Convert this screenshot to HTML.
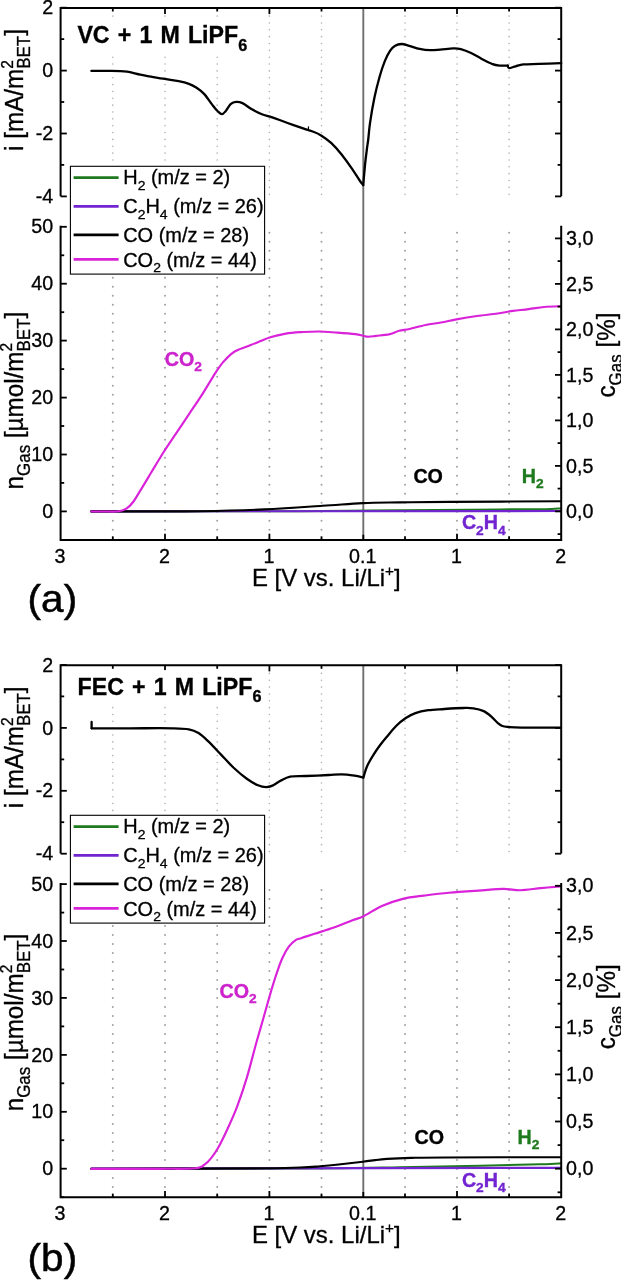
<!DOCTYPE html>
<html><head><meta charset="utf-8"><title>Figure</title>
<style>html,body{margin:0;padding:0;background:#fff}svg{display:block}</style></head>
<body>
<svg width="621" height="1280" viewBox="0 0 621 1280" font-family='"Liberation Sans", Arial, sans-serif'>
<rect width="621" height="1280" fill="#fff"/>
<line x1="112.8" x2="112.8" y1="16.1" y2="195.2" stroke="#b0b0b0" stroke-width="1.6" stroke-linecap="round" stroke-dasharray="0.01 6.84"/>
<line x1="112.8" x2="112.8" y1="232.7" y2="538.9" stroke="#a0a0a0" stroke-width="2.0" stroke-linecap="round" stroke-dasharray="0.01 8.99"/>
<line x1="165.0" x2="165.0" y1="16.1" y2="195.2" stroke="#b0b0b0" stroke-width="1.6" stroke-linecap="round" stroke-dasharray="0.01 6.84"/>
<line x1="165.0" x2="165.0" y1="232.7" y2="538.9" stroke="#a0a0a0" stroke-width="2.0" stroke-linecap="round" stroke-dasharray="0.01 8.99"/>
<line x1="217.2" x2="217.2" y1="16.1" y2="195.2" stroke="#b0b0b0" stroke-width="1.6" stroke-linecap="round" stroke-dasharray="0.01 6.84"/>
<line x1="217.2" x2="217.2" y1="232.7" y2="538.9" stroke="#a0a0a0" stroke-width="2.0" stroke-linecap="round" stroke-dasharray="0.01 8.99"/>
<line x1="269.4" x2="269.4" y1="16.1" y2="195.2" stroke="#b0b0b0" stroke-width="1.6" stroke-linecap="round" stroke-dasharray="0.01 6.84"/>
<line x1="269.4" x2="269.4" y1="232.7" y2="538.9" stroke="#a0a0a0" stroke-width="2.0" stroke-linecap="round" stroke-dasharray="0.01 8.99"/>
<line x1="321.5" x2="321.5" y1="16.1" y2="195.2" stroke="#b0b0b0" stroke-width="1.6" stroke-linecap="round" stroke-dasharray="0.01 6.84"/>
<line x1="321.5" x2="321.5" y1="232.7" y2="538.9" stroke="#a0a0a0" stroke-width="2.0" stroke-linecap="round" stroke-dasharray="0.01 8.99"/>
<line x1="405.0" x2="405.0" y1="16.1" y2="195.2" stroke="#b0b0b0" stroke-width="1.6" stroke-linecap="round" stroke-dasharray="0.01 6.84"/>
<line x1="405.0" x2="405.0" y1="232.7" y2="538.9" stroke="#a0a0a0" stroke-width="2.0" stroke-linecap="round" stroke-dasharray="0.01 8.99"/>
<line x1="457.0" x2="457.0" y1="16.1" y2="195.2" stroke="#b0b0b0" stroke-width="1.6" stroke-linecap="round" stroke-dasharray="0.01 6.84"/>
<line x1="457.0" x2="457.0" y1="232.7" y2="538.9" stroke="#a0a0a0" stroke-width="2.0" stroke-linecap="round" stroke-dasharray="0.01 8.99"/>
<line x1="509.1" x2="509.1" y1="16.1" y2="195.2" stroke="#b0b0b0" stroke-width="1.6" stroke-linecap="round" stroke-dasharray="0.01 6.84"/>
<line x1="509.1" x2="509.1" y1="232.7" y2="538.9" stroke="#a0a0a0" stroke-width="2.0" stroke-linecap="round" stroke-dasharray="0.01 8.99"/>
<line x1="363.3" x2="363.3" y1="7.9" y2="539.9" stroke="#707070" stroke-width="1.9"/>
<path d="M308.3,130.2 L308.5,126.9" fill="none" stroke="#000" stroke-width="1.2" stroke-linejoin="round" stroke-linecap="round"/>
<path d="M91.4,70.9 C94.8,70.9 105.6,70.8 111.5,70.9 C117.4,71.0 122.7,71.2 127.0,71.7 C131.3,72.2 133.9,73.3 137.3,74.0 C140.7,74.7 143.3,75.3 147.6,76.1 C151.9,76.9 157.9,77.8 163.1,78.7 C168.3,79.6 174.3,80.4 178.6,81.2 C182.9,82.0 185.9,82.7 188.9,83.8 C191.9,84.9 194.0,86.0 196.6,87.7 C199.2,89.4 201.7,91.3 204.3,94.1 C206.9,96.9 209.8,101.6 212.0,104.4 C214.2,107.2 215.8,109.4 217.5,111.0 C219.2,112.6 220.5,114.2 221.9,114.2 C223.3,114.2 224.3,112.6 225.8,110.9 C227.3,109.2 229.2,105.4 230.9,103.9 C232.6,102.4 234.2,102.0 236.1,101.9 C238.0,101.8 239.9,101.9 242.5,103.1 C245.1,104.3 248.3,107.2 251.5,109.1 C254.7,110.9 258.4,112.8 261.9,114.2 C265.3,115.6 267.9,115.8 272.2,117.3 C276.5,118.8 282.5,121.2 287.6,123.0 C292.8,124.8 299.0,127.0 303.1,128.4 C307.2,129.8 309.0,130.0 312.0,131.2 C315.0,132.4 317.9,133.4 321.1,135.4 C324.3,137.4 327.9,139.9 331.4,143.1 C334.8,146.3 338.4,150.4 341.8,154.7 C345.2,159.0 349.1,164.5 352.1,168.9 C355.1,173.3 358.1,178.3 360.0,181.0 C361.9,183.7 362.7,184.4 363.2,185.1" fill="none" stroke="#000" stroke-width="2.3" stroke-linejoin="round" stroke-linecap="round"/>
<path d="M363.2,185.1 C363.5,181.6 364.5,170.2 365.1,164.2 C365.7,158.2 366.4,153.2 366.9,149.0 C367.4,144.8 367.8,143.3 368.3,139.0 C368.8,134.7 369.0,130.0 370.0,123.1 C371.0,116.1 372.9,105.0 374.5,97.3 C376.1,89.6 377.9,82.7 379.6,76.7 C381.3,70.7 383.1,65.5 384.8,61.2 C386.5,56.9 388.3,53.5 390.0,50.9 C391.7,48.3 393.2,46.9 395.1,45.8 C397.0,44.6 399.1,44.0 401.5,44.0 C403.9,44.0 406.3,45.0 409.3,45.8 C412.3,46.6 416.2,48.2 419.6,48.9 C423.0,49.6 426.5,50.1 429.9,50.2 C433.3,50.3 436.3,49.9 440.2,49.6 C444.1,49.3 449.7,48.5 453.1,48.4 C456.5,48.3 457.8,48.3 460.8,49.1 C463.8,49.9 467.7,51.4 471.1,53.0 C474.5,54.6 477.9,56.9 481.4,58.7 C484.8,60.5 488.8,62.6 491.8,63.8 C494.8,64.9 496.8,65.3 499.5,65.6 C502.2,65.9 506.4,65.6 507.8,65.6" fill="none" stroke="#000" stroke-width="2.3" stroke-linejoin="round" stroke-linecap="round"/>
<path d="M507.8,65.6 C508.0,66.0 507.7,68.1 509.0,68.2 C510.3,68.3 513.2,66.9 515.6,66.3 C518.0,65.7 519.5,64.8 523.4,64.4 C527.3,64.0 532.7,64.1 539.0,63.9 C545.3,63.7 557.5,63.3 561.2,63.2" fill="none" stroke="#000" stroke-width="2.3" stroke-linejoin="round" stroke-linecap="round"/>
<path d="M91.3,511.4 C126.1,511.4 248.6,511.4 300.0,511.2 C351.4,511.0 366.7,510.6 400.0,510.3 C433.3,510.0 475.8,509.6 500.0,509.4 C524.2,509.2 534.9,509.4 545.0,509.2 C555.1,509.0 557.9,508.5 560.5,508.4" fill="none" stroke="#1f7a1f" stroke-width="2.0" stroke-linejoin="round" stroke-linecap="round"/>
<path d="M91.3,511.4 L560.5,511.0" fill="none" stroke="#7224d0" stroke-width="2.2" stroke-linejoin="round" stroke-linecap="round"/>
<path d="M91.3,511.4 C101.1,511.4 131.9,511.4 150.0,511.4 C168.1,511.4 180.9,511.5 200.0,511.2 C219.1,510.9 244.0,510.3 264.4,509.4 C284.8,508.5 306.0,506.9 322.4,505.8 C338.8,504.8 349.7,503.7 362.6,503.1 C375.5,502.5 385.4,502.6 400.0,502.4 C414.6,502.2 423.2,502.1 450.0,501.9 C476.8,501.7 542.1,501.4 560.5,501.3" fill="none" stroke="#000" stroke-width="2.1" stroke-linejoin="round" stroke-linecap="round"/>
<path d="M91.3,511.5 C93.6,511.5 100.5,511.5 105.0,511.5 C109.5,511.5 115.0,511.8 118.6,511.3 C122.2,510.8 124.3,509.9 126.7,508.4 C129.1,506.8 130.7,505.2 133.1,502.0 C135.5,498.8 138.2,493.9 141.2,489.1 C144.2,484.3 147.2,479.2 150.9,473.0 C154.7,466.8 159.4,458.7 163.7,452.0 C168.0,445.3 172.3,439.1 176.6,432.7 C180.9,426.3 185.2,419.8 189.5,413.4 C193.8,407.0 198.1,400.8 202.4,394.1 C206.7,387.4 211.8,378.5 215.3,373.1 C218.8,367.7 220.6,365.1 223.3,361.9 C226.0,358.7 229.0,355.8 231.4,353.8 C233.8,351.8 234.6,351.4 237.8,350.0 C241.0,348.6 247.0,346.6 250.7,345.1 C254.4,343.7 256.7,342.6 260.0,341.3 C263.3,340.0 266.0,338.5 270.3,337.2 C274.6,335.9 280.7,334.5 285.8,333.6 C290.9,332.8 295.6,332.5 301.2,332.1 C306.8,331.8 313.3,331.4 319.3,331.5 C325.3,331.6 331.3,332.2 337.3,332.6 C343.3,333.0 351.1,333.6 355.4,334.1 C359.7,334.6 361.0,335.3 363.1,335.7 C365.2,336.1 366.1,336.7 368.2,336.7 C370.3,336.7 372.6,336.3 376.0,335.9 C379.4,335.5 385.0,335.2 388.9,334.4 C392.8,333.5 395.8,331.7 399.2,330.8 C402.6,329.9 405.1,330.0 409.5,329.0 C413.9,328.0 420.3,326.1 425.5,325.0 C430.7,323.9 435.8,323.4 440.9,322.5 C446.0,321.6 450.4,320.5 456.4,319.4 C462.4,318.3 470.1,317.0 477.0,316.0 C483.9,315.0 491.6,314.4 497.6,313.5 C503.6,312.6 507.9,311.6 513.1,310.9 C518.3,310.2 523.5,309.8 528.6,309.1 C533.8,308.5 538.7,307.5 544.0,307.0 C549.3,306.5 557.8,306.3 560.5,306.2" fill="none" stroke="#d922d9" stroke-width="2.15" stroke-linejoin="round" stroke-linecap="round"/>
<path d="M60.6,196.2 V7.9 H561.2 V196.2" fill="none" stroke="#000" stroke-width="2.0" stroke-linejoin="miter"/>
<path d="M60.6,225.8 V539.9 H561.2 V225.8" fill="none" stroke="#000" stroke-width="2.0" stroke-linejoin="miter"/>
<line x1="60.6" x2="66.8" y1="7.7" y2="7.7" stroke="#000" stroke-width="1.8"/>
<line x1="561.2" x2="555.0" y1="7.7" y2="7.7" stroke="#000" stroke-width="1.8"/>
<line x1="60.6" x2="64.2" y1="39.1" y2="39.1" stroke="#000" stroke-width="1.8"/>
<line x1="561.2" x2="557.6" y1="39.1" y2="39.1" stroke="#000" stroke-width="1.8"/>
<line x1="60.6" x2="66.8" y1="70.6" y2="70.6" stroke="#000" stroke-width="1.8"/>
<line x1="561.2" x2="555.0" y1="70.6" y2="70.6" stroke="#000" stroke-width="1.8"/>
<line x1="60.6" x2="64.2" y1="102.0" y2="102.0" stroke="#000" stroke-width="1.8"/>
<line x1="561.2" x2="557.6" y1="102.0" y2="102.0" stroke="#000" stroke-width="1.8"/>
<line x1="60.6" x2="66.8" y1="133.5" y2="133.5" stroke="#000" stroke-width="1.8"/>
<line x1="561.2" x2="555.0" y1="133.5" y2="133.5" stroke="#000" stroke-width="1.8"/>
<line x1="60.6" x2="64.2" y1="164.9" y2="164.9" stroke="#000" stroke-width="1.8"/>
<line x1="561.2" x2="557.6" y1="164.9" y2="164.9" stroke="#000" stroke-width="1.8"/>
<line x1="60.6" x2="66.8" y1="196.4" y2="196.4" stroke="#000" stroke-width="1.8"/>
<line x1="561.2" x2="555.0" y1="196.4" y2="196.4" stroke="#000" stroke-width="1.8"/>
<line x1="165.0" x2="165.0" y1="7.9" y2="14.1" stroke="#000" stroke-width="1.8"/>
<line x1="165.0" x2="165.0" y1="539.9" y2="533.7" stroke="#000" stroke-width="1.8"/>
<line x1="269.4" x2="269.4" y1="7.9" y2="14.1" stroke="#000" stroke-width="1.8"/>
<line x1="269.4" x2="269.4" y1="539.9" y2="533.7" stroke="#000" stroke-width="1.8"/>
<line x1="457.0" x2="457.0" y1="7.9" y2="14.1" stroke="#000" stroke-width="1.8"/>
<line x1="457.0" x2="457.0" y1="539.9" y2="533.7" stroke="#000" stroke-width="1.8"/>
<line x1="363.3" x2="363.3" y1="539.9" y2="534.7" stroke="#000" stroke-width="1.8"/>
<line x1="112.8" x2="112.8" y1="7.9" y2="11.5" stroke="#000" stroke-width="1.8"/>
<line x1="112.8" x2="112.8" y1="539.9" y2="536.3" stroke="#000" stroke-width="1.8"/>
<line x1="217.2" x2="217.2" y1="7.9" y2="11.5" stroke="#000" stroke-width="1.8"/>
<line x1="217.2" x2="217.2" y1="539.9" y2="536.3" stroke="#000" stroke-width="1.8"/>
<line x1="321.5" x2="321.5" y1="7.9" y2="11.5" stroke="#000" stroke-width="1.8"/>
<line x1="321.5" x2="321.5" y1="539.9" y2="536.3" stroke="#000" stroke-width="1.8"/>
<line x1="405.0" x2="405.0" y1="7.9" y2="11.5" stroke="#000" stroke-width="1.8"/>
<line x1="405.0" x2="405.0" y1="539.9" y2="536.3" stroke="#000" stroke-width="1.8"/>
<line x1="509.1" x2="509.1" y1="7.9" y2="11.5" stroke="#000" stroke-width="1.8"/>
<line x1="509.1" x2="509.1" y1="539.9" y2="536.3" stroke="#000" stroke-width="1.8"/>
<line x1="60.6" x2="64.2" y1="539.9" y2="539.9" stroke="#000" stroke-width="1.8"/>
<line x1="60.6" x2="66.8" y1="511.4" y2="511.4" stroke="#000" stroke-width="1.8"/>
<line x1="60.6" x2="64.2" y1="482.9" y2="482.9" stroke="#000" stroke-width="1.8"/>
<line x1="60.6" x2="66.8" y1="454.5" y2="454.5" stroke="#000" stroke-width="1.8"/>
<line x1="60.6" x2="64.2" y1="426.0" y2="426.0" stroke="#000" stroke-width="1.8"/>
<line x1="60.6" x2="66.8" y1="397.6" y2="397.6" stroke="#000" stroke-width="1.8"/>
<line x1="60.6" x2="64.2" y1="369.1" y2="369.1" stroke="#000" stroke-width="1.8"/>
<line x1="60.6" x2="66.8" y1="340.6" y2="340.6" stroke="#000" stroke-width="1.8"/>
<line x1="60.6" x2="64.2" y1="312.2" y2="312.2" stroke="#000" stroke-width="1.8"/>
<line x1="60.6" x2="66.8" y1="283.7" y2="283.7" stroke="#000" stroke-width="1.8"/>
<line x1="60.6" x2="64.2" y1="255.3" y2="255.3" stroke="#000" stroke-width="1.8"/>
<line x1="60.6" x2="66.8" y1="226.8" y2="226.8" stroke="#000" stroke-width="1.8"/>
<line x1="561.2" x2="557.6" y1="534.1" y2="534.1" stroke="#000" stroke-width="1.8"/>
<line x1="561.2" x2="555.0" y1="511.4" y2="511.4" stroke="#000" stroke-width="1.8"/>
<line x1="561.2" x2="557.6" y1="488.6" y2="488.6" stroke="#000" stroke-width="1.8"/>
<line x1="561.2" x2="555.0" y1="465.9" y2="465.9" stroke="#000" stroke-width="1.8"/>
<line x1="561.2" x2="557.6" y1="443.1" y2="443.1" stroke="#000" stroke-width="1.8"/>
<line x1="561.2" x2="555.0" y1="420.4" y2="420.4" stroke="#000" stroke-width="1.8"/>
<line x1="561.2" x2="557.6" y1="397.6" y2="397.6" stroke="#000" stroke-width="1.8"/>
<line x1="561.2" x2="555.0" y1="374.9" y2="374.9" stroke="#000" stroke-width="1.8"/>
<line x1="561.2" x2="557.6" y1="352.1" y2="352.1" stroke="#000" stroke-width="1.8"/>
<line x1="561.2" x2="555.0" y1="329.4" y2="329.4" stroke="#000" stroke-width="1.8"/>
<line x1="561.2" x2="557.6" y1="306.6" y2="306.6" stroke="#000" stroke-width="1.8"/>
<line x1="561.2" x2="555.0" y1="283.9" y2="283.9" stroke="#000" stroke-width="1.8"/>
<line x1="561.2" x2="557.6" y1="261.1" y2="261.1" stroke="#000" stroke-width="1.8"/>
<line x1="561.2" x2="555.0" y1="238.4" y2="238.4" stroke="#000" stroke-width="1.8"/>
<text transform="translate(53.2,14.3) scale(1.02,1.0)" font-size="19.3" text-anchor="end" font-weight="normal" fill="#000"  stroke="#000" stroke-width="0.3">2</text>
<text transform="translate(53.2,77.2) scale(1.02,1.0)" font-size="19.3" text-anchor="end" font-weight="normal" fill="#000"  stroke="#000" stroke-width="0.3">0</text>
<text transform="translate(53.2,140.1) scale(1.02,1.0)" font-size="19.3" text-anchor="end" font-weight="normal" fill="#000"  stroke="#000" stroke-width="0.3">-2</text>
<text transform="translate(53.2,203.0) scale(1.02,1.0)" font-size="19.3" text-anchor="end" font-weight="normal" fill="#000"  stroke="#000" stroke-width="0.3">-4</text>
<text transform="translate(53.2,518.0) scale(1.02,1.0)" font-size="19.3" text-anchor="end" font-weight="normal" fill="#000"  stroke="#000" stroke-width="0.3">0</text>
<text transform="translate(53.2,461.1) scale(1.02,1.0)" font-size="19.3" text-anchor="end" font-weight="normal" fill="#000"  stroke="#000" stroke-width="0.3">10</text>
<text transform="translate(53.2,404.2) scale(1.02,1.0)" font-size="19.3" text-anchor="end" font-weight="normal" fill="#000"  stroke="#000" stroke-width="0.3">20</text>
<text transform="translate(53.2,347.2) scale(1.02,1.0)" font-size="19.3" text-anchor="end" font-weight="normal" fill="#000"  stroke="#000" stroke-width="0.3">30</text>
<text transform="translate(53.2,290.3) scale(1.02,1.0)" font-size="19.3" text-anchor="end" font-weight="normal" fill="#000"  stroke="#000" stroke-width="0.3">40</text>
<text transform="translate(53.2,233.4) scale(1.02,1.0)" font-size="19.3" text-anchor="end" font-weight="normal" fill="#000"  stroke="#000" stroke-width="0.3">50</text>
<text transform="translate(566.0,518.0) scale(1.02,1.0)" font-size="19.3" text-anchor="start" font-weight="normal" fill="#000"  stroke="#000" stroke-width="0.3">0,0</text>
<text transform="translate(566.0,472.5) scale(1.02,1.0)" font-size="19.3" text-anchor="start" font-weight="normal" fill="#000"  stroke="#000" stroke-width="0.3">0,5</text>
<text transform="translate(566.0,427.0) scale(1.02,1.0)" font-size="19.3" text-anchor="start" font-weight="normal" fill="#000"  stroke="#000" stroke-width="0.3">1,0</text>
<text transform="translate(566.0,381.5) scale(1.02,1.0)" font-size="19.3" text-anchor="start" font-weight="normal" fill="#000"  stroke="#000" stroke-width="0.3">1,5</text>
<text transform="translate(566.0,336.0) scale(1.02,1.0)" font-size="19.3" text-anchor="start" font-weight="normal" fill="#000"  stroke="#000" stroke-width="0.3">2,0</text>
<text transform="translate(566.0,290.5) scale(1.02,1.0)" font-size="19.3" text-anchor="start" font-weight="normal" fill="#000"  stroke="#000" stroke-width="0.3">2,5</text>
<text transform="translate(566.0,245.0) scale(1.02,1.0)" font-size="19.3" text-anchor="start" font-weight="normal" fill="#000"  stroke="#000" stroke-width="0.3">3,0</text>
<text transform="translate(60.1,562.6) scale(1.02,1.0)" font-size="19.3" text-anchor="middle" font-weight="normal" fill="#000"  stroke="#000" stroke-width="0.3">3</text>
<text transform="translate(164.5,562.6) scale(1.02,1.0)" font-size="19.3" text-anchor="middle" font-weight="normal" fill="#000"  stroke="#000" stroke-width="0.3">2</text>
<text transform="translate(268.9,562.6) scale(1.02,1.0)" font-size="19.3" text-anchor="middle" font-weight="normal" fill="#000"  stroke="#000" stroke-width="0.3">1</text>
<text transform="translate(362.8,562.6) scale(1.02,1.0)" font-size="19.3" text-anchor="middle" font-weight="normal" fill="#000"  stroke="#000" stroke-width="0.3">0.1</text>
<text transform="translate(456.5,562.6) scale(1.02,1.0)" font-size="19.3" text-anchor="middle" font-weight="normal" fill="#000"  stroke="#000" stroke-width="0.3">1</text>
<text transform="translate(560.7,562.6) scale(1.02,1.0)" font-size="19.3" text-anchor="middle" font-weight="normal" fill="#000"  stroke="#000" stroke-width="0.3">2</text>
<text transform="translate(326.3,585.9) scale(1.02,1.0)" font-size="23.5" text-anchor="middle" font-weight="normal" fill="#000"  stroke="#000" stroke-width="0.3"><tspan font-size="23.50" dy="0.00">E [V vs. Li/Li</tspan><tspan font-size="15.04" dy="-9.87">+</tspan><tspan font-size="23.50" dy="9.87">]</tspan></text>
<text transform="translate(23.2,90.0) rotate(-90) scale(1.01,1.05)" font-size="24" text-anchor="middle" font-weight="normal" fill="#000"  stroke="#000" stroke-width="0.3"><tspan font-size="24.00" dy="0.00">i [mA/m</tspan><tspan font-size="15.36" dy="-10.08">2</tspan><tspan font-size="16.80" dy="16.80" dx="-8.54">BET</tspan><tspan font-size="24.00" dy="-6.72">]</tspan></text>
<text transform="translate(22.6,400.6) rotate(-90) scale(1.01,1.05)" font-size="24" text-anchor="middle" font-weight="normal" fill="#000"  stroke="#000" stroke-width="0.3"><tspan font-size="24.00" dy="0.00">n</tspan><tspan font-size="16.80" dy="6.72">Gas</tspan><tspan font-size="24.00" dy="-6.72"> [µmol/m</tspan><tspan font-size="15.36" dy="-10.08">2</tspan><tspan font-size="16.80" dy="16.80" dx="-8.54">BET</tspan><tspan font-size="24.00" dy="-6.72">]</tspan></text>
<text transform="translate(615.0,355.0) rotate(-90) scale(1.01,1.05)" font-size="24" text-anchor="middle" font-weight="normal" fill="#000"  stroke="#000" stroke-width="0.3"><tspan font-size="24.00" dy="0.00">c</tspan><tspan font-size="16.80" dy="6.72">Gas</tspan><tspan font-size="24.00" dy="-6.72"> [%]</tspan></text>
<rect x="72" y="19.0" width="178" height="34" fill="#fff"/>
<text transform="translate(77.4,43.4) scale(1.0,1.0)" font-size="23.2" text-anchor="start" font-weight="bold" fill="#000" word-spacing="1.7" stroke="#000" stroke-width="0.35"><tspan font-size="23.20" dy="0.00">VC + 1 M LiPF</tspan><tspan font-size="16.24" dy="7.66">6</tspan></text>
<rect x="70.4" y="166.3" width="194.2" height="107.8" fill="#fff" stroke="#000" stroke-width="1.1"/>
<line x1="73.6" x2="118.6" y1="177.7" y2="177.7" stroke="#1f7a1f" stroke-width="2.8"/>
<text transform="translate(123.2,184.3) scale(1.035,1.0)" font-size="19.3" text-anchor="start" font-weight="normal" fill="#000"  stroke="#000" stroke-width="0.3"><tspan font-size="19.30" dy="0.00">H</tspan><tspan font-size="13.51" dy="5.40">2</tspan><tspan font-size="19.30" dy="-5.40"> (m/z = 2)</tspan></text>
<line x1="73.6" x2="118.6" y1="206.3" y2="206.3" stroke="#7224d0" stroke-width="2.8"/>
<text transform="translate(123.2,213.3) scale(1.035,1.0)" font-size="19.3" text-anchor="start" font-weight="normal" fill="#000"  stroke="#000" stroke-width="0.3"><tspan font-size="19.30" dy="0.00">C</tspan><tspan font-size="13.51" dy="5.40">2</tspan><tspan font-size="19.30" dy="-5.40">H</tspan><tspan font-size="13.51" dy="5.40">4</tspan><tspan font-size="19.30" dy="-5.40"> (m/z = 26)</tspan></text>
<line x1="73.6" x2="118.6" y1="234.8" y2="234.8" stroke="#000" stroke-width="2.8"/>
<text transform="translate(123.2,241.8) scale(1.035,1.0)" font-size="19.3" text-anchor="start" font-weight="normal" fill="#000"  stroke="#000" stroke-width="0.3"><tspan font-size="19.30" dy="0.00">CO (m/z = 28)</tspan></text>
<line x1="73.6" x2="118.6" y1="259.3" y2="259.3" stroke="#d922d9" stroke-width="2.8"/>
<text transform="translate(123.2,266.5) scale(1.035,1.0)" font-size="19.3" text-anchor="start" font-weight="normal" fill="#000"  stroke="#000" stroke-width="0.3"><tspan font-size="19.30" dy="0.00">CO</tspan><tspan font-size="13.51" dy="5.40">2</tspan><tspan font-size="19.30" dy="-5.40"> (m/z = 44)</tspan></text>
<text transform="translate(164.8,366.0) scale(1.02,1.0)" font-size="19.3" text-anchor="start" font-weight="bold" fill="#cc22cc"  stroke="#cc22cc" stroke-width="0.35"><tspan font-size="19.30" dy="0.00">CO</tspan><tspan font-size="13.51" dy="5.40">2</tspan></text>
<text transform="translate(413.4,483.3) scale(1.02,1.0)" font-size="19.3" text-anchor="start" font-weight="bold" fill="#000"  stroke="#000" stroke-width="0.35"><tspan font-size="19.30" dy="0.00">CO</tspan></text>
<text transform="translate(521.8,482.8) scale(1.02,1.0)" font-size="19.3" text-anchor="start" font-weight="bold" fill="#1f7a1f"  stroke="#1f7a1f" stroke-width="0.35"><tspan font-size="19.30" dy="0.00">H</tspan><tspan font-size="13.51" dy="5.40">2</tspan></text>
<text transform="translate(461.9,529.4) scale(1.02,1.0)" font-size="19.3" text-anchor="start" font-weight="bold" fill="#7224d0"  stroke="#7224d0" stroke-width="0.35"><tspan font-size="19.30" dy="0.00">C</tspan><tspan font-size="13.51" dy="5.40">2</tspan><tspan font-size="19.30" dy="-5.40">H</tspan><tspan font-size="13.51" dy="5.40">4</tspan></text>
<text transform="translate(27.6,612.3) scale(1.045,1.0)" font-size="38.8" text-anchor="start" font-weight="normal" fill="#000" stroke="#000" stroke-width="0.5">(a)</text>
<line x1="112.8" x2="112.8" y1="673.4" y2="852.5" stroke="#b0b0b0" stroke-width="1.6" stroke-linecap="round" stroke-dasharray="0.01 6.84"/>
<line x1="112.8" x2="112.8" y1="890.0" y2="1196.2" stroke="#a0a0a0" stroke-width="2.0" stroke-linecap="round" stroke-dasharray="0.01 8.99"/>
<line x1="165.0" x2="165.0" y1="673.4" y2="852.5" stroke="#b0b0b0" stroke-width="1.6" stroke-linecap="round" stroke-dasharray="0.01 6.84"/>
<line x1="165.0" x2="165.0" y1="890.0" y2="1196.2" stroke="#a0a0a0" stroke-width="2.0" stroke-linecap="round" stroke-dasharray="0.01 8.99"/>
<line x1="217.2" x2="217.2" y1="673.4" y2="852.5" stroke="#b0b0b0" stroke-width="1.6" stroke-linecap="round" stroke-dasharray="0.01 6.84"/>
<line x1="217.2" x2="217.2" y1="890.0" y2="1196.2" stroke="#a0a0a0" stroke-width="2.0" stroke-linecap="round" stroke-dasharray="0.01 8.99"/>
<line x1="269.4" x2="269.4" y1="673.4" y2="852.5" stroke="#b0b0b0" stroke-width="1.6" stroke-linecap="round" stroke-dasharray="0.01 6.84"/>
<line x1="269.4" x2="269.4" y1="890.0" y2="1196.2" stroke="#a0a0a0" stroke-width="2.0" stroke-linecap="round" stroke-dasharray="0.01 8.99"/>
<line x1="321.5" x2="321.5" y1="673.4" y2="852.5" stroke="#b0b0b0" stroke-width="1.6" stroke-linecap="round" stroke-dasharray="0.01 6.84"/>
<line x1="321.5" x2="321.5" y1="890.0" y2="1196.2" stroke="#a0a0a0" stroke-width="2.0" stroke-linecap="round" stroke-dasharray="0.01 8.99"/>
<line x1="405.0" x2="405.0" y1="673.4" y2="852.5" stroke="#b0b0b0" stroke-width="1.6" stroke-linecap="round" stroke-dasharray="0.01 6.84"/>
<line x1="405.0" x2="405.0" y1="890.0" y2="1196.2" stroke="#a0a0a0" stroke-width="2.0" stroke-linecap="round" stroke-dasharray="0.01 8.99"/>
<line x1="457.0" x2="457.0" y1="673.4" y2="852.5" stroke="#b0b0b0" stroke-width="1.6" stroke-linecap="round" stroke-dasharray="0.01 6.84"/>
<line x1="457.0" x2="457.0" y1="890.0" y2="1196.2" stroke="#a0a0a0" stroke-width="2.0" stroke-linecap="round" stroke-dasharray="0.01 8.99"/>
<line x1="509.1" x2="509.1" y1="673.4" y2="852.5" stroke="#b0b0b0" stroke-width="1.6" stroke-linecap="round" stroke-dasharray="0.01 6.84"/>
<line x1="509.1" x2="509.1" y1="890.0" y2="1196.2" stroke="#a0a0a0" stroke-width="2.0" stroke-linecap="round" stroke-dasharray="0.01 8.99"/>
<line x1="363.3" x2="363.3" y1="665.2" y2="1197.2" stroke="#707070" stroke-width="1.9"/>
<path d="M91.6,721.9 L91.6,728.3" fill="none" stroke="#000" stroke-width="2.3" stroke-linejoin="round" stroke-linecap="round"/>
<path d="M91.6,728.3 C98.0,728.3 116.5,728.3 130.0,728.3 C143.5,728.3 162.9,728.1 172.7,728.3 C182.5,728.5 184.5,728.5 188.8,729.3 C193.1,730.1 195.3,731.1 198.5,733.1 C201.7,735.1 204.3,737.6 208.1,741.2 C211.8,744.8 216.7,750.1 221.0,754.6 C225.3,759.1 229.6,764.0 233.9,768.0 C238.2,772.0 242.8,775.9 246.8,778.8 C250.8,781.7 254.8,783.9 258.0,785.3 C261.2,786.7 263.6,787.2 266.0,787.2 C268.4,787.2 270.1,786.7 272.5,785.6 C274.9,784.5 277.6,782.3 280.5,780.8 C283.4,779.3 285.9,777.4 290.2,776.6 C294.5,775.8 299.9,776.3 306.3,776.0 C312.7,775.7 322.9,775.3 328.8,775.0 C334.7,774.7 337.4,774.3 341.7,774.4 C346.0,774.5 351.0,775.2 354.6,775.7 C358.2,776.2 361.9,777.3 363.3,777.6" fill="none" stroke="#000" stroke-width="2.3" stroke-linejoin="round" stroke-linecap="round"/>
<path d="M363.3,777.6 C364.0,775.5 365.7,769.2 367.5,765.3 C369.3,761.4 371.8,757.4 373.9,754.1 C376.0,750.8 377.9,748.1 380.0,745.3 C382.1,742.5 383.7,740.5 386.4,737.3 C389.1,734.1 392.9,729.2 396.1,726.0 C399.3,722.8 402.6,720.1 405.8,718.0 C409.0,715.9 411.6,714.4 415.4,713.1 C419.1,711.8 423.5,710.9 428.3,710.2 C433.1,709.5 438.5,709.4 444.4,709.0 C450.3,708.6 458.9,708.1 463.7,708.0 C468.5,707.9 470.2,707.8 473.4,708.3 C476.6,708.8 480.2,709.5 483.1,710.9 C486.1,712.2 488.7,714.4 491.1,716.4 C493.5,718.4 495.7,721.2 497.6,722.8 C499.5,724.4 500.5,725.3 502.4,726.0 C504.3,726.7 505.6,726.7 508.8,727.0 C512.0,727.3 513.0,727.5 521.7,727.6 C530.4,727.7 554.5,727.6 561.0,727.6" fill="none" stroke="#000" stroke-width="2.3" stroke-linejoin="round" stroke-linecap="round"/>
<path d="M91.3,1168.7 C126.1,1168.7 248.6,1168.8 300.0,1168.5 C351.4,1168.2 370.0,1167.7 400.0,1167.2 C430.0,1166.8 456.7,1166.3 480.0,1165.8 C503.3,1165.3 526.6,1164.6 540.0,1164.2 C553.4,1163.8 557.1,1163.5 560.5,1163.3" fill="none" stroke="#1f7a1f" stroke-width="2.0" stroke-linejoin="round" stroke-linecap="round"/>
<path d="M91.3,1168.7 L560.5,1167.8" fill="none" stroke="#7224d0" stroke-width="2.2" stroke-linejoin="round" stroke-linecap="round"/>
<path d="M91.3,1168.7 C117.8,1168.7 215.2,1168.6 250.0,1168.4 C284.8,1168.2 288.3,1167.8 300.0,1167.5 C311.7,1167.2 313.6,1166.8 320.0,1166.3 C326.4,1165.8 331.5,1165.3 338.6,1164.5 C345.7,1163.7 356.7,1162.4 362.8,1161.7 C368.9,1161.0 371.0,1160.6 375.0,1160.1 C379.0,1159.6 381.0,1159.3 387.0,1158.9 C393.0,1158.5 401.3,1158.1 411.0,1157.9 C420.7,1157.7 420.1,1157.6 445.0,1157.5 C469.9,1157.4 541.2,1157.2 560.5,1157.2" fill="none" stroke="#000" stroke-width="2.1" stroke-linejoin="round" stroke-linecap="round"/>
<path d="M91.3,1168.8 C102.8,1168.8 142.7,1168.9 160.0,1168.8 C177.3,1168.7 187.9,1169.1 195.4,1168.3 C202.9,1167.5 202.4,1165.9 205.1,1164.1 C207.8,1162.3 209.3,1160.3 211.5,1157.6 C213.7,1154.9 215.3,1152.8 218.0,1148.0 C220.7,1143.2 224.4,1135.7 227.6,1128.7 C230.8,1121.7 234.1,1114.7 237.3,1106.1 C240.5,1097.5 243.8,1087.8 247.0,1077.1 C250.2,1066.4 253.9,1051.3 256.6,1041.7 C259.3,1032.1 261.0,1026.7 263.1,1019.2 C265.2,1011.7 267.4,1003.9 269.5,996.6 C271.6,989.4 273.8,982.1 275.9,975.7 C278.0,969.3 280.2,962.8 282.4,958.0 C284.5,953.2 286.6,949.7 288.8,946.7 C291.0,943.8 293.2,941.8 295.3,940.3 C297.4,938.8 298.5,939.1 301.7,938.0 C304.9,936.9 309.2,935.6 314.6,933.8 C320.0,932.0 327.5,929.7 333.9,927.4 C340.3,925.1 348.3,921.8 353.2,920.0 C358.1,918.2 358.2,918.8 363.0,916.5 C367.8,914.2 375.3,909.0 381.9,906.1 C388.5,903.2 395.8,900.6 402.8,898.9 C409.8,897.1 416.1,896.6 423.8,895.6 C431.5,894.6 439.8,893.5 448.9,892.7 C458.0,891.9 469.1,891.2 478.2,890.6 C487.3,890.0 496.3,889.0 503.3,888.9 C510.3,888.8 513.8,890.3 520.1,890.2 C526.4,890.1 534.3,888.7 541.0,888.1 C547.7,887.5 557.2,886.7 560.5,886.4" fill="none" stroke="#d922d9" stroke-width="2.15" stroke-linejoin="round" stroke-linecap="round"/>
<path d="M60.6,853.5 V665.2 H561.2 V853.5" fill="none" stroke="#000" stroke-width="2.0" stroke-linejoin="miter"/>
<path d="M60.6,883.1 V1197.2 H561.2 V883.1" fill="none" stroke="#000" stroke-width="2.0" stroke-linejoin="miter"/>
<line x1="60.6" x2="66.8" y1="665.0" y2="665.0" stroke="#000" stroke-width="1.8"/>
<line x1="561.2" x2="555.0" y1="665.0" y2="665.0" stroke="#000" stroke-width="1.8"/>
<line x1="60.6" x2="64.2" y1="696.4" y2="696.4" stroke="#000" stroke-width="1.8"/>
<line x1="561.2" x2="557.6" y1="696.4" y2="696.4" stroke="#000" stroke-width="1.8"/>
<line x1="60.6" x2="66.8" y1="727.9" y2="727.9" stroke="#000" stroke-width="1.8"/>
<line x1="561.2" x2="555.0" y1="727.9" y2="727.9" stroke="#000" stroke-width="1.8"/>
<line x1="60.6" x2="64.2" y1="759.4" y2="759.4" stroke="#000" stroke-width="1.8"/>
<line x1="561.2" x2="557.6" y1="759.4" y2="759.4" stroke="#000" stroke-width="1.8"/>
<line x1="60.6" x2="66.8" y1="790.8" y2="790.8" stroke="#000" stroke-width="1.8"/>
<line x1="561.2" x2="555.0" y1="790.8" y2="790.8" stroke="#000" stroke-width="1.8"/>
<line x1="60.6" x2="64.2" y1="822.2" y2="822.2" stroke="#000" stroke-width="1.8"/>
<line x1="561.2" x2="557.6" y1="822.2" y2="822.2" stroke="#000" stroke-width="1.8"/>
<line x1="60.6" x2="66.8" y1="853.7" y2="853.7" stroke="#000" stroke-width="1.8"/>
<line x1="561.2" x2="555.0" y1="853.7" y2="853.7" stroke="#000" stroke-width="1.8"/>
<line x1="165.0" x2="165.0" y1="665.2" y2="671.4" stroke="#000" stroke-width="1.8"/>
<line x1="165.0" x2="165.0" y1="1197.2" y2="1191.0" stroke="#000" stroke-width="1.8"/>
<line x1="269.4" x2="269.4" y1="665.2" y2="671.4" stroke="#000" stroke-width="1.8"/>
<line x1="269.4" x2="269.4" y1="1197.2" y2="1191.0" stroke="#000" stroke-width="1.8"/>
<line x1="457.0" x2="457.0" y1="665.2" y2="671.4" stroke="#000" stroke-width="1.8"/>
<line x1="457.0" x2="457.0" y1="1197.2" y2="1191.0" stroke="#000" stroke-width="1.8"/>
<line x1="363.3" x2="363.3" y1="1197.2" y2="1192.0" stroke="#000" stroke-width="1.8"/>
<line x1="112.8" x2="112.8" y1="665.2" y2="668.8" stroke="#000" stroke-width="1.8"/>
<line x1="112.8" x2="112.8" y1="1197.2" y2="1193.6" stroke="#000" stroke-width="1.8"/>
<line x1="217.2" x2="217.2" y1="665.2" y2="668.8" stroke="#000" stroke-width="1.8"/>
<line x1="217.2" x2="217.2" y1="1197.2" y2="1193.6" stroke="#000" stroke-width="1.8"/>
<line x1="321.5" x2="321.5" y1="665.2" y2="668.8" stroke="#000" stroke-width="1.8"/>
<line x1="321.5" x2="321.5" y1="1197.2" y2="1193.6" stroke="#000" stroke-width="1.8"/>
<line x1="405.0" x2="405.0" y1="665.2" y2="668.8" stroke="#000" stroke-width="1.8"/>
<line x1="405.0" x2="405.0" y1="1197.2" y2="1193.6" stroke="#000" stroke-width="1.8"/>
<line x1="509.1" x2="509.1" y1="665.2" y2="668.8" stroke="#000" stroke-width="1.8"/>
<line x1="509.1" x2="509.1" y1="1197.2" y2="1193.6" stroke="#000" stroke-width="1.8"/>
<line x1="60.6" x2="64.2" y1="1197.2" y2="1197.2" stroke="#000" stroke-width="1.8"/>
<line x1="60.6" x2="66.8" y1="1168.7" y2="1168.7" stroke="#000" stroke-width="1.8"/>
<line x1="60.6" x2="64.2" y1="1140.2" y2="1140.2" stroke="#000" stroke-width="1.8"/>
<line x1="60.6" x2="66.8" y1="1111.8" y2="1111.8" stroke="#000" stroke-width="1.8"/>
<line x1="60.6" x2="64.2" y1="1083.3" y2="1083.3" stroke="#000" stroke-width="1.8"/>
<line x1="60.6" x2="66.8" y1="1054.9" y2="1054.9" stroke="#000" stroke-width="1.8"/>
<line x1="60.6" x2="64.2" y1="1026.4" y2="1026.4" stroke="#000" stroke-width="1.8"/>
<line x1="60.6" x2="66.8" y1="997.9" y2="997.9" stroke="#000" stroke-width="1.8"/>
<line x1="60.6" x2="64.2" y1="969.5" y2="969.5" stroke="#000" stroke-width="1.8"/>
<line x1="60.6" x2="66.8" y1="941.0" y2="941.0" stroke="#000" stroke-width="1.8"/>
<line x1="60.6" x2="64.2" y1="912.6" y2="912.6" stroke="#000" stroke-width="1.8"/>
<line x1="60.6" x2="66.8" y1="884.1" y2="884.1" stroke="#000" stroke-width="1.8"/>
<line x1="561.2" x2="557.6" y1="1192.3" y2="1192.3" stroke="#000" stroke-width="1.8"/>
<line x1="561.2" x2="555.0" y1="1168.7" y2="1168.7" stroke="#000" stroke-width="1.8"/>
<line x1="561.2" x2="557.6" y1="1145.1" y2="1145.1" stroke="#000" stroke-width="1.8"/>
<line x1="561.2" x2="555.0" y1="1121.5" y2="1121.5" stroke="#000" stroke-width="1.8"/>
<line x1="561.2" x2="557.6" y1="1098.0" y2="1098.0" stroke="#000" stroke-width="1.8"/>
<line x1="561.2" x2="555.0" y1="1074.4" y2="1074.4" stroke="#000" stroke-width="1.8"/>
<line x1="561.2" x2="557.6" y1="1050.8" y2="1050.8" stroke="#000" stroke-width="1.8"/>
<line x1="561.2" x2="555.0" y1="1027.2" y2="1027.2" stroke="#000" stroke-width="1.8"/>
<line x1="561.2" x2="557.6" y1="1003.7" y2="1003.7" stroke="#000" stroke-width="1.8"/>
<line x1="561.2" x2="555.0" y1="980.1" y2="980.1" stroke="#000" stroke-width="1.8"/>
<line x1="561.2" x2="557.6" y1="956.5" y2="956.5" stroke="#000" stroke-width="1.8"/>
<line x1="561.2" x2="555.0" y1="932.9" y2="932.9" stroke="#000" stroke-width="1.8"/>
<line x1="561.2" x2="557.6" y1="909.4" y2="909.4" stroke="#000" stroke-width="1.8"/>
<line x1="561.2" x2="555.0" y1="885.8" y2="885.8" stroke="#000" stroke-width="1.8"/>
<text transform="translate(53.2,671.6) scale(1.02,1.0)" font-size="19.3" text-anchor="end" font-weight="normal" fill="#000"  stroke="#000" stroke-width="0.3">2</text>
<text transform="translate(53.2,734.5) scale(1.02,1.0)" font-size="19.3" text-anchor="end" font-weight="normal" fill="#000"  stroke="#000" stroke-width="0.3">0</text>
<text transform="translate(53.2,797.4) scale(1.02,1.0)" font-size="19.3" text-anchor="end" font-weight="normal" fill="#000"  stroke="#000" stroke-width="0.3">-2</text>
<text transform="translate(53.2,860.3) scale(1.02,1.0)" font-size="19.3" text-anchor="end" font-weight="normal" fill="#000"  stroke="#000" stroke-width="0.3">-4</text>
<text transform="translate(53.2,1175.3) scale(1.02,1.0)" font-size="19.3" text-anchor="end" font-weight="normal" fill="#000"  stroke="#000" stroke-width="0.3">0</text>
<text transform="translate(53.2,1118.4) scale(1.02,1.0)" font-size="19.3" text-anchor="end" font-weight="normal" fill="#000"  stroke="#000" stroke-width="0.3">10</text>
<text transform="translate(53.2,1061.5) scale(1.02,1.0)" font-size="19.3" text-anchor="end" font-weight="normal" fill="#000"  stroke="#000" stroke-width="0.3">20</text>
<text transform="translate(53.2,1004.5) scale(1.02,1.0)" font-size="19.3" text-anchor="end" font-weight="normal" fill="#000"  stroke="#000" stroke-width="0.3">30</text>
<text transform="translate(53.2,947.6) scale(1.02,1.0)" font-size="19.3" text-anchor="end" font-weight="normal" fill="#000"  stroke="#000" stroke-width="0.3">40</text>
<text transform="translate(53.2,890.7) scale(1.02,1.0)" font-size="19.3" text-anchor="end" font-weight="normal" fill="#000"  stroke="#000" stroke-width="0.3">50</text>
<text transform="translate(566.0,1175.3) scale(1.02,1.0)" font-size="19.3" text-anchor="start" font-weight="normal" fill="#000"  stroke="#000" stroke-width="0.3">0,0</text>
<text transform="translate(566.0,1128.1) scale(1.02,1.0)" font-size="19.3" text-anchor="start" font-weight="normal" fill="#000"  stroke="#000" stroke-width="0.3">0,5</text>
<text transform="translate(566.0,1081.0) scale(1.02,1.0)" font-size="19.3" text-anchor="start" font-weight="normal" fill="#000"  stroke="#000" stroke-width="0.3">1,0</text>
<text transform="translate(566.0,1033.8) scale(1.02,1.0)" font-size="19.3" text-anchor="start" font-weight="normal" fill="#000"  stroke="#000" stroke-width="0.3">1,5</text>
<text transform="translate(566.0,986.7) scale(1.02,1.0)" font-size="19.3" text-anchor="start" font-weight="normal" fill="#000"  stroke="#000" stroke-width="0.3">2,0</text>
<text transform="translate(566.0,939.5) scale(1.02,1.0)" font-size="19.3" text-anchor="start" font-weight="normal" fill="#000"  stroke="#000" stroke-width="0.3">2,5</text>
<text transform="translate(566.0,892.4) scale(1.02,1.0)" font-size="19.3" text-anchor="start" font-weight="normal" fill="#000"  stroke="#000" stroke-width="0.3">3,0</text>
<text transform="translate(60.1,1219.9) scale(1.02,1.0)" font-size="19.3" text-anchor="middle" font-weight="normal" fill="#000"  stroke="#000" stroke-width="0.3">3</text>
<text transform="translate(164.5,1219.9) scale(1.02,1.0)" font-size="19.3" text-anchor="middle" font-weight="normal" fill="#000"  stroke="#000" stroke-width="0.3">2</text>
<text transform="translate(268.9,1219.9) scale(1.02,1.0)" font-size="19.3" text-anchor="middle" font-weight="normal" fill="#000"  stroke="#000" stroke-width="0.3">1</text>
<text transform="translate(362.8,1219.9) scale(1.02,1.0)" font-size="19.3" text-anchor="middle" font-weight="normal" fill="#000"  stroke="#000" stroke-width="0.3">0.1</text>
<text transform="translate(456.5,1219.9) scale(1.02,1.0)" font-size="19.3" text-anchor="middle" font-weight="normal" fill="#000"  stroke="#000" stroke-width="0.3">1</text>
<text transform="translate(560.7,1219.9) scale(1.02,1.0)" font-size="19.3" text-anchor="middle" font-weight="normal" fill="#000"  stroke="#000" stroke-width="0.3">2</text>
<text transform="translate(326.3,1243.2) scale(1.02,1.0)" font-size="23.5" text-anchor="middle" font-weight="normal" fill="#000"  stroke="#000" stroke-width="0.3"><tspan font-size="23.50" dy="0.00">E [V vs. Li/Li</tspan><tspan font-size="15.04" dy="-9.87">+</tspan><tspan font-size="23.50" dy="9.87">]</tspan></text>
<text transform="translate(23.2,747.3) rotate(-90) scale(1.01,1.05)" font-size="24" text-anchor="middle" font-weight="normal" fill="#000"  stroke="#000" stroke-width="0.3"><tspan font-size="24.00" dy="0.00">i [mA/m</tspan><tspan font-size="15.36" dy="-10.08">2</tspan><tspan font-size="16.80" dy="16.80" dx="-8.54">BET</tspan><tspan font-size="24.00" dy="-6.72">]</tspan></text>
<text transform="translate(22.6,1022.5) rotate(-90) scale(1.01,1.05)" font-size="24" text-anchor="middle" font-weight="normal" fill="#000"  stroke="#000" stroke-width="0.3"><tspan font-size="24.00" dy="0.00">n</tspan><tspan font-size="16.80" dy="6.72">Gas</tspan><tspan font-size="24.00" dy="-6.72"> [µmol/m</tspan><tspan font-size="15.36" dy="-10.08">2</tspan><tspan font-size="16.80" dy="16.80" dx="-8.54">BET</tspan><tspan font-size="24.00" dy="-6.72">]</tspan></text>
<text transform="translate(615.0,1006.8) rotate(-90) scale(1.01,1.05)" font-size="24" text-anchor="middle" font-weight="normal" fill="#000"  stroke="#000" stroke-width="0.3"><tspan font-size="24.00" dy="0.00">c</tspan><tspan font-size="16.80" dy="6.72">Gas</tspan><tspan font-size="24.00" dy="-6.72"> [%]</tspan></text>
<rect x="72" y="670.1" width="193" height="34" fill="#fff"/>
<text transform="translate(77.5,694.5) scale(1.0,1.0)" font-size="23.2" text-anchor="start" font-weight="bold" fill="#000" word-spacing="1.7" stroke="#000" stroke-width="0.35"><tspan font-size="23.20" dy="0.00">FEC + 1 M LiPF</tspan><tspan font-size="16.24" dy="7.66">6</tspan></text>
<rect x="70.4" y="815.3" width="194.2" height="107.8" fill="#fff" stroke="#000" stroke-width="1.1"/>
<line x1="73.6" x2="118.6" y1="826.7" y2="826.7" stroke="#1f7a1f" stroke-width="2.8"/>
<text transform="translate(123.2,833.3) scale(1.035,1.0)" font-size="19.3" text-anchor="start" font-weight="normal" fill="#000"  stroke="#000" stroke-width="0.3"><tspan font-size="19.30" dy="0.00">H</tspan><tspan font-size="13.51" dy="5.40">2</tspan><tspan font-size="19.30" dy="-5.40"> (m/z = 2)</tspan></text>
<line x1="73.6" x2="118.6" y1="855.3" y2="855.3" stroke="#7224d0" stroke-width="2.8"/>
<text transform="translate(123.2,862.3) scale(1.035,1.0)" font-size="19.3" text-anchor="start" font-weight="normal" fill="#000"  stroke="#000" stroke-width="0.3"><tspan font-size="19.30" dy="0.00">C</tspan><tspan font-size="13.51" dy="5.40">2</tspan><tspan font-size="19.30" dy="-5.40">H</tspan><tspan font-size="13.51" dy="5.40">4</tspan><tspan font-size="19.30" dy="-5.40"> (m/z = 26)</tspan></text>
<line x1="73.6" x2="118.6" y1="883.8" y2="883.8" stroke="#000" stroke-width="2.8"/>
<text transform="translate(123.2,890.8) scale(1.035,1.0)" font-size="19.3" text-anchor="start" font-weight="normal" fill="#000"  stroke="#000" stroke-width="0.3"><tspan font-size="19.30" dy="0.00">CO (m/z = 28)</tspan></text>
<line x1="73.6" x2="118.6" y1="908.3" y2="908.3" stroke="#d922d9" stroke-width="2.8"/>
<text transform="translate(123.2,915.5) scale(1.035,1.0)" font-size="19.3" text-anchor="start" font-weight="normal" fill="#000"  stroke="#000" stroke-width="0.3"><tspan font-size="19.30" dy="0.00">CO</tspan><tspan font-size="13.51" dy="5.40">2</tspan><tspan font-size="19.30" dy="-5.40"> (m/z = 44)</tspan></text>
<text transform="translate(219.6,997.6) scale(1.02,1.0)" font-size="19.3" text-anchor="start" font-weight="bold" fill="#cc22cc"  stroke="#cc22cc" stroke-width="0.35"><tspan font-size="19.30" dy="0.00">CO</tspan><tspan font-size="13.51" dy="5.40">2</tspan></text>
<text transform="translate(414.5,1143.5) scale(1.02,1.0)" font-size="19.3" text-anchor="start" font-weight="bold" fill="#000"  stroke="#000" stroke-width="0.35"><tspan font-size="19.30" dy="0.00">CO</tspan></text>
<text transform="translate(517.6,1143.5) scale(1.02,1.0)" font-size="19.3" text-anchor="start" font-weight="bold" fill="#1f7a1f"  stroke="#1f7a1f" stroke-width="0.35"><tspan font-size="19.30" dy="0.00">H</tspan><tspan font-size="13.51" dy="5.40">2</tspan></text>
<text transform="translate(461.9,1187.0) scale(1.02,1.0)" font-size="19.3" text-anchor="start" font-weight="bold" fill="#7224d0"  stroke="#7224d0" stroke-width="0.35"><tspan font-size="19.30" dy="0.00">C</tspan><tspan font-size="13.51" dy="5.40">2</tspan><tspan font-size="19.30" dy="-5.40">H</tspan><tspan font-size="13.51" dy="5.40">4</tspan></text>
<text transform="translate(27.6,1271.1) scale(1.045,1.0)" font-size="38.8" text-anchor="start" font-weight="normal" fill="#000" stroke="#000" stroke-width="0.5">(b)</text>
</svg>
</body></html>
